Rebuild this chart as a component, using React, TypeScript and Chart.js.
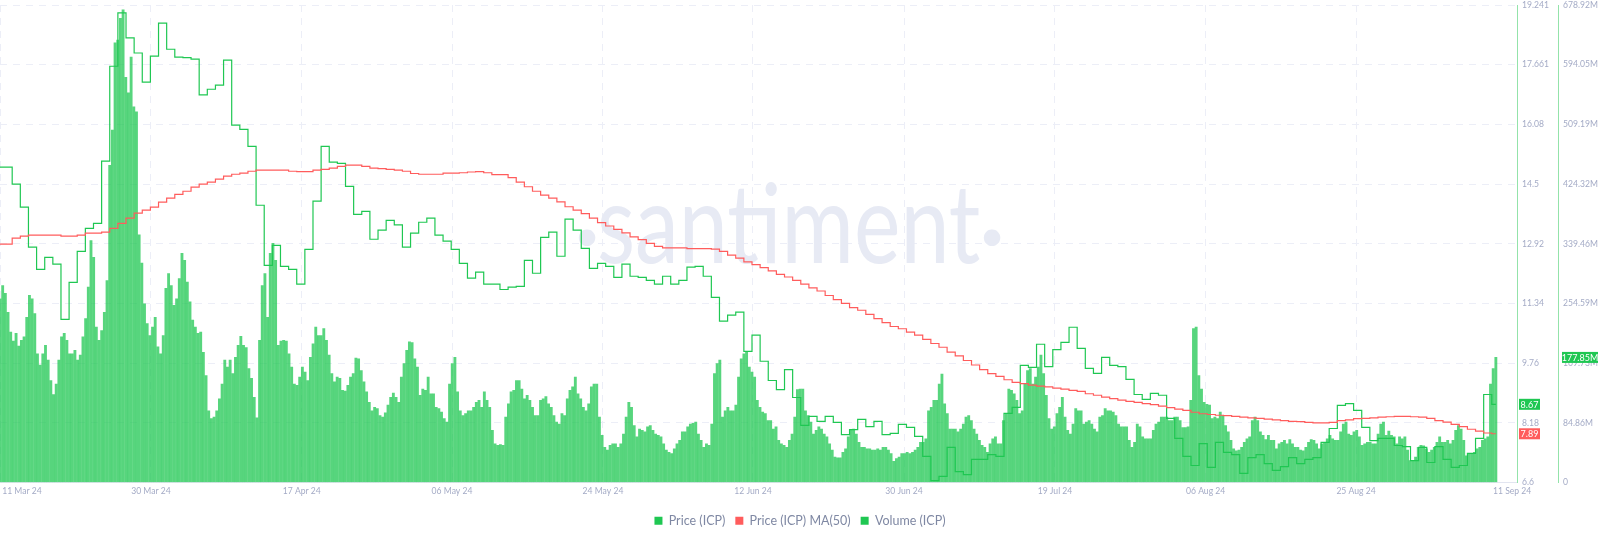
import { useEffect, useRef } from 'react'
import { Chart, registerables } from 'chart.js'

Chart.register(...registerables)

const GREEN = '#1fc752'
const RED = '#ff5c5c'
const TICK_COLOR = '#a4abc6'
const GRID_COLOR = '#eceef7'

// one value per day, 11 Mar 24 -> 11 Sep 24
const priceValues = [
  14.95, 14.95, 14.5, 13.89, 12.83, 12.24, 12.56, 12.38, 10.92, 11.9, 12.72, 13.33, 13.46, 15.11, 17.62, 19.03,
  18.37, 17.97, 17.2, 17.89, 18.76, 18.07, 17.86, 17.85, 17.81, 16.86, 17.01, 17.12, 17.78, 16.06, 15.95, 15.5,
  13.94, 12.35, 12.88, 12.32, 12.24, 11.85, 12.77, 14.05, 15.5, 15.08, 15.05, 14.44, 13.7, 13.78, 13.04, 13.28,
  13.54, 13.42, 12.83, 13.2, 13.49, 13.6, 13.15, 12.99, 12.77, 12.4, 12.01, 12.17, 11.85, 11.85, 11.71, 11.77,
  11.79, 12.48, 12.14, 13.09, 13.23, 12.59, 13.57, 13.28, 12.8, 12.27, 12.4, 12.32, 12.03, 12.38, 12.06, 12.03,
  11.95, 11.85, 12.06, 11.85, 11.95, 12.3, 12.32, 12.06, 11.5, 10.87, 11.03, 11.11, 10.07, 10.5, 9.81, 9.3,
  9.06, 9.59, 8.85, 8.11, 8.35, 8.22, 8.35, 8.19, 7.87, 8.0, 8.27, 8.08, 8.22, 7.87, 7.9, 8.14,
  8.06, 7.82, 7.29, 6.65, 6.76, 7.53, 6.89, 6.81, 7.21, 7.21, 7.34, 7.29, 8.43, 8.59, 9.7, 9.65,
  10.26, 9.67, 10.12, 10.31, 10.71, 10.15, 9.62, 9.49, 9.91, 9.7, 9.67, 9.33, 8.93, 8.8, 8.96, 8.91,
  8.3, 7.77, 7.29, 7.05, 7.63, 7.0, 7.66, 7.4, 7.34, 6.84, 7.26, 7.34, 7.1, 6.92, 7.02, 7.26,
  7.1, 7.21, 7.26, 7.66, 8.03, 8.64, 8.69, 8.51, 8.06, 7.71, 7.77, 7.77, 7.58, 7.55, 7.18, 7.53,
  7.13, 7.55, 7.21, 7.0, 7.05, 7.37, 7.77, 8.93, 8.67,
]

const maValues = [
  12.91, 12.91, 13.07, 13.12, 13.15, 13.15, 13.15, 13.15, 13.12, 13.12, 13.15, 13.2, 13.2, 13.23, 13.33, 13.46,
  13.6, 13.73, 13.81, 13.89, 14.02, 14.13, 14.23, 14.31, 14.42, 14.5, 14.55, 14.63, 14.71, 14.76, 14.79, 14.84,
  14.87, 14.87, 14.87, 14.87, 14.84, 14.83, 14.83, 14.87, 14.89, 14.92, 14.97, 15.0, 15.0, 14.97, 14.92, 14.91,
  14.89, 14.87, 14.84, 14.78, 14.76, 14.76, 14.76, 14.79, 14.79, 14.8, 14.82, 14.83, 14.8, 14.75, 14.75, 14.67,
  14.55, 14.43, 14.31, 14.21, 14.13, 14.03, 13.9, 13.81, 13.72, 13.6, 13.48, 13.39, 13.3, 13.21, 13.1, 13.03,
  12.93, 12.85, 12.81, 12.81, 12.81, 12.79, 12.79, 12.79, 12.78, 12.72, 12.62, 12.54, 12.44, 12.37, 12.29, 12.2,
  12.11, 12.04, 11.95, 11.85, 11.75, 11.67, 11.55, 11.44, 11.34, 11.23, 11.16, 11.05, 10.94, 10.83, 10.73, 10.67,
  10.58, 10.5, 10.39, 10.28, 10.18, 10.05, 9.95, 9.83, 9.71, 9.59, 9.48, 9.41, 9.32, 9.25, 9.22, 9.18,
  9.15, 9.13, 9.1, 9.07, 9.04, 9.01, 8.95, 8.91, 8.86, 8.82, 8.78, 8.75, 8.72, 8.69, 8.66, 8.62,
  8.58, 8.54, 8.51, 8.46, 8.42, 8.4, 8.38, 8.37, 8.35, 8.33, 8.31, 8.3, 8.28, 8.26, 8.24, 8.22,
  8.21, 8.19, 8.18, 8.18, 8.19, 8.24, 8.26, 8.29, 8.3, 8.31, 8.33, 8.34, 8.35, 8.35, 8.34, 8.33,
  8.3, 8.24, 8.2, 8.14, 8.08, 8.01, 7.96, 7.91, 7.89,
]

// millions, about three bars per day
const volumeValues = [
  261, 280, 269, 242, 214, 201, 212, 194, 202, 207, 235, 266, 261, 240, 183, 167, 183, 195, 174, 145, 125, 140, 174, 207,
  212, 202, 183, 183, 188, 174, 181, 207, 233, 278, 344, 320, 221, 202, 216, 242, 287, 451, 501, 625, 629, 660, 672, 576,
  554, 605, 534, 527, 352, 312, 254, 226, 209, 221, 235, 193, 183, 209, 276, 297, 280, 252, 261, 290, 326, 316, 285, 257,
  231, 221, 212, 214, 185, 152, 102, 91, 93, 102, 119, 140, 174, 164, 174, 155, 178, 195, 208, 195, 192, 162, 148, 121,
  92, 202, 280, 297, 235, 326, 340, 316, 195, 201, 202, 201, 183, 164, 140, 138, 150, 164, 157, 145, 178, 197, 221, 209,
  209, 219, 202, 181, 155, 143, 150, 148, 131, 130, 138, 150, 155, 177, 176, 159, 143, 129, 114, 102, 107, 105, 95, 93,
  99, 110, 121, 127,
  121, 114, 150, 169, 188, 200, 199, 176, 164, 124, 133, 131, 150, 126, 126, 107, 105, 100, 91, 86, 140, 169, 178, 129,
  102, 95, 98, 102, 102, 107, 114, 117, 107, 129, 117, 107, 74, 55, 53, 54, 53, 93, 112, 129, 131, 145, 145, 133,
  119, 124, 117, 107, 95, 95, 117, 119, 122, 112, 107, 95, 86, 83, 98, 95, 119, 131, 136, 150, 126, 119, 107, 102,
  112, 136, 140, 140, 93, 67, 50, 46, 53, 55, 55, 50, 55, 69, 93, 114, 107, 81, 65, 76, 74, 72, 79, 81, 74, 69,
  67, 65, 55, 46, 43, 41, 48, 55, 60, 72, 72, 79, 83, 84, 86, 69, 60, 50, 55, 53, 83, 155, 169, 174, 93, 102,
  107, 102, 102, 110, 150, 176, 183, 185, 164, 157, 150, 117, 107, 100, 98, 88, 88, 76, 79, 60, 55, 53, 50, 60, 69, 93,
  132, 133, 133, 102, 95, 86, 69, 74, 79, 76, 69, 65, 55, 46, 36, 35, 35, 43, 48, 65, 74, 76, 69, 57, 50, 50,
  48, 48, 46, 46, 48, 46, 50, 50, 46, 41, 30, 34, 36, 41, 41, 43, 41, 43, 46, 50, 57, 57, 62, 102, 107, 117,
  117, 140, 154, 112, 98, 76, 76, 76, 72, 76, 83, 93, 95, 88, 76, 69, 60, 53, 50, 43, 55, 62, 65, 55, 55, 88,
  98, 133, 131, 126, 117, 98, 102, 140, 159, 162, 140, 150, 164, 181, 155, 124, 91, 76, 79, 98, 107, 121, 93, 74, 69, 83,
  105, 102, 102, 83, 86, 88, 83, 76, 72, 93, 95, 105, 102, 102, 100, 95, 83, 79, 79, 79, 60, 50, 57, 83, 79, 65,
  62, 62, 62, 74, 83, 86, 93, 93, 93, 88, 88, 93, 93, 88, 78, 78, 79, 117, 219, 221,
  152, 133, 114, 111, 110, 91, 93, 91, 100, 95, 81, 72, 60, 48, 45, 46, 50, 57, 62, 65, 88, 93, 88, 72,
  67, 61, 67, 60, 60, 48, 55, 57, 60, 55, 61, 55, 50, 50, 46, 45, 50, 57, 61, 60, 55, 48, 55, 57,
  62, 67, 62, 60, 60, 72, 83, 86, 69, 67, 72, 74, 65, 53, 55, 57, 57, 55, 55, 69, 83, 86, 67, 73,
  67, 65, 55, 65, 62, 65, 46, 31, 30, 36, 50, 53, 52, 48, 43, 46, 50, 57, 65, 57, 57, 60, 55, 60,
  74, 81, 76, 60, 38, 40, 41, 43, 48, 50, 60, 62, 65, 140, 162, 177.85,
]

const priceTicks = [6.6, 8.18, 9.76, 11.34, 12.92, 14.5, 16.08, 17.661, 19.241]
const volumeTicks = [0, 84.86, 169.73, 254.59, 339.46, 424.32, 509.19, 594.05, 678.92]

// day offsets along the x axis; first and last carry only a grid line or only a label
const xTickDays = [0, 2.7, 18.57, 37.12, 55.6, 74.17, 92.62, 111.2, 129.77, 148.3, 166.8, 186]
const xTickLabels = ['', '11 Mar 24', '30 Mar 24', '17 Apr 24', '06 May 24', '24 May 24', '12 Jun 24', '30 Jun 24', '19 Jul 24', '06 Aug 24', '25 Aug 24', '11 Sep 24']

const LAST_DAY = priceValues.length - 1
const X_MAX = 186.6

const overlayPlugin = {
  id: 'overlay',
  beforeDatasetsDraw(chart: Chart) {
    const { ctx } = chart
    ctx.save()
    ctx.fillStyle = '#e7eaf4'
    ctx.font = '400 110px Lato'
    ctx.textBaseline = 'alphabetic'
    ctx.textAlign = 'center'
    // the two dots sit closer to the word than Lato spaces them
    ctx.fillText('·', 587, 271)
    ctx.fillText('·', 992, 271)
    ctx.textAlign = 'left'
    ctx.translate(597, 263)
    ctx.scale(0.8, 1)
    ctx.fillText('santiment', 0, 0)
    ctx.restore()
  },
  afterDraw(chart: Chart) {
    const { ctx } = chart
    const badge = (text: string, left: number, width: number, y: number, color: string) => {
      ctx.save()
      ctx.fillStyle = color
      ctx.fillRect(left, y - 5.5, width, 11)
      ctx.fillStyle = '#fff'
      ctx.font = '9px Lato'
      ctx.textAlign = 'center'
      ctx.textBaseline = 'middle'
      ctx.fillText(text, left + width / 2, y + 0.5)
      ctx.restore()
    }
    const price = chart.scales.price
    const volume = chart.scales.volume
    const lastPrice = priceValues[LAST_DAY]
    const lastMa = maValues[LAST_DAY]
    const lastVolume = volumeValues[volumeValues.length - 1]
    badge(String(lastPrice), 1519, 21, price.getPixelForValue(lastPrice), GREEN)
    badge(String(lastMa), 1519, 21, price.getPixelForValue(lastMa), RED)
    badge(lastVolume + 'M', 1562, 36, volume.getPixelForValue(lastVolume), GREEN)
  },
}

export default function App() {
  const canvasRef = useRef<HTMLCanvasElement>(null)

  useEffect(() => {
    const canvas = canvasRef.current
    if (!canvas) return

    const tickFont = { family: 'Lato', size: 8.6 }

    const chart = new Chart(canvas, {
      type: 'bar',
      data: {
        datasets: [
          {
            type: 'line',
            label: 'Price (ICP)',
            data: priceValues.map((y, i) => ({ x: i, y })),
            yAxisID: 'price',
            borderColor: GREEN,
            borderWidth: 1.2,
            stepped: 'middle',
            pointRadius: 0,
            order: 1,
          },
          {
            type: 'line',
            label: 'Price (ICP) MA(50)',
            data: maValues.map((y, i) => ({ x: i, y })),
            yAxisID: 'price',
            borderColor: RED,
            borderWidth: 1.2,
            stepped: 'middle',
            pointRadius: 0,
            order: 0,
          },
          {
            type: 'bar',
            label: 'Volume (ICP)',
            data: volumeValues.map((y, i) => ({ x: (i * LAST_DAY) / (volumeValues.length - 1), y })),
            yAxisID: 'volume',
            backgroundColor: 'rgba(31, 199, 82, 0.75)',
            barThickness: 2.2,
            order: 2,
          },
        ],
      },
      options: {
        responsive: false,
        animation: false,
        devicePixelRatio: 1,
        layout: { padding: { top: 0, bottom: 4, left: 0, right: 0 } },
        plugins: {
          tooltip: { enabled: false },
          legend: {
            position: 'bottom',
            labels: {
              boxWidth: 8,
              boxHeight: 8,
              padding: 10,
              color: '#7f88a3',
              font: { family: 'Lato', size: 12.5 },
              generateLabels: () =>
                [
                  ['Price (ICP)', GREEN],
                  ['Price (ICP) MA(50)', RED],
                  ['Volume (ICP)', GREEN],
                ].map(([text, fillStyle]) => ({ text, fillStyle, strokeStyle: fillStyle, lineWidth: 0, fontColor: '#7f88a3' })),
            },
          },
        },
        scales: {
          x: {
            type: 'linear',
            min: 0,
            max: X_MAX,
            offset: false,
            afterBuildTicks: (scale) => {
              scale.ticks = xTickDays.map((value) => ({ value }))
            },
            afterFit: (scale) => {
              scale.height = 22
              scale.paddingLeft = 0
              scale.paddingRight = 0
            },
            border: { color: '#e2e5f0', dash: [7, 6] },
            grid: {
              offset: false,
              drawTicks: false,
              color: (ctx) => (ctx.index === 1 || ctx.index === xTickDays.length - 1 ? 'transparent' : GRID_COLOR),
            },
            ticks: {
              autoSkip: false,
              maxRotation: 0,
              padding: 4,
              color: TICK_COLOR,
              font: tickFont,
              callback: (_value, index) => xTickLabels[index],
            },
          },
          price: {
            type: 'linear',
            position: 'right',
            weight: 0,
            min: 6.6,
            max: 19.241,
            afterBuildTicks: (scale) => {
              scale.ticks = priceTicks.map((value) => ({ value }))
            },
            afterFit: (scale) => {
              scale.width = 41
              scale.paddingTop = 5
            },
            border: { color: '#93e3aa', dash: [7, 6] },
            grid: { drawTicks: false, color: GRID_COLOR },
            ticks: { padding: 5, color: TICK_COLOR, font: tickFont, callback: (value) => String(value) },
          },
          volume: {
            type: 'linear',
            position: 'right',
            weight: 1,
            min: 0,
            max: 678.92,
            afterBuildTicks: (scale) => {
              scale.ticks = volumeTicks.map((value) => ({ value }))
            },
            afterFit: (scale) => {
              scale.width = 42
              scale.paddingTop = 5
            },
            border: { color: '#93e3aa' },
            grid: { drawOnChartArea: false, drawTicks: false },
            ticks: {
              padding: 5,
              color: TICK_COLOR,
              font: tickFont,
              callback: (value) => (value === 0 ? '0' : Number(value).toFixed(2) + 'M'),
            },
          },
        },
      },
      plugins: [overlayPlugin],
    })

    return () => chart.destroy()
  }, [])

  return (
    <div style={{ position: 'absolute', left: 0, top: 0, width: 1600, height: 541, background: '#fff' }}>
      <canvas ref={canvasRef} width={1600} height={541} />
    </div>
  )
}
